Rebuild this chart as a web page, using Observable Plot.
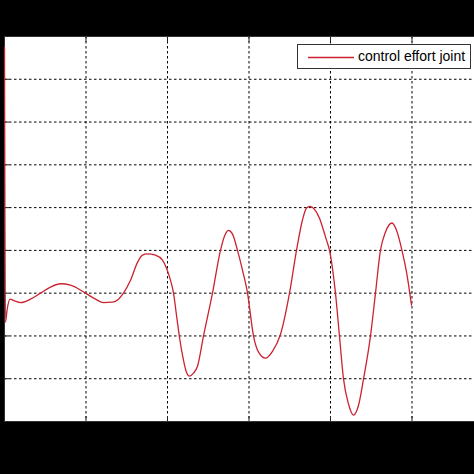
<!DOCTYPE html>
<html>
<head>
<meta charset="utf-8">
<script src="https://cdn.jsdelivr.net/npm/d3@7"></script>
<script src="https://cdn.jsdelivr.net/npm/@observablehq/plot@0.6"></script>
<style>
  html, body { margin: 0; padding: 0; background: #000; }
  #wrap { position: relative; width: 474px; height: 474px; overflow: hidden; background: #000; }
  #legend {
    position: absolute; left: 297px; top: 44px; width: 174px; height: 25px;
    background: #fff; border: 1px solid #333; box-sizing: border-box;
    font-family: "Liberation Sans", Arial, sans-serif; font-size: 14px; color: #000;
  }
  #legend svg { position: absolute; left: 9px; top: 6px; }
  #legend .lb { position: absolute; left: 60px; top: 3px; white-space: nowrap; }
</style>
</head>
<body>
<div id="wrap"><div id="legend"><svg width="48" height="12"><line x1="1" y1="6.5" x2="47" y2="6.5" stroke="#cc2230" stroke-width="1.3"/></svg><span class="lb">control effort joint</span></div></div>
<script>
const timeValues = [0, 0.012, 0.031, 0.068, 0.123, 0.196, 0.319, 0.442, 0.564, 0.687, 0.81, 0.994, 1.117, 1.215, 1.325, 1.399, 1.46, 1.546, 1.632, 1.693, 1.755, 1.853, 1.939, 1.988, 2.037, 2.074, 2.11, 2.147, 2.184, 2.233, 2.27, 2.319, 2.368, 2.442, 2.552, 2.65, 2.699, 2.748, 2.798, 2.859, 2.92, 2.982, 3.055, 3.117, 3.202, 3.288, 3.387, 3.497, 3.583, 3.656, 3.706, 3.748, 3.804, 3.865, 3.914, 3.951, 3.988, 4.061, 4.11, 4.16, 4.221, 4.282, 4.344, 4.405, 4.491, 4.552, 4.613, 4.675, 4.755, 4.81, 4.877, 4.933, 4.994];
const effortValues = [57.5, -6.8, -4.0, -1.4, -1.8, -2.2, -1.4, 0, 1.4, 2.2, 1.9, 0, -1.4, -2.2, -2.1, -1.4, 0, 3.0, 7.2, 8.9, 9.2, 8.9, 7.7, 5.8, 3.0, 0, -5.1, -10.3, -14.5, -18.5, -19.4, -18.7, -17.1, -10.0, 0, 10.0, 13.3, 14.7, 13.8, 10.0, 5.4, 0, -10.0, -13.8, -15.2, -13.6, -9.6, 0, 10.0, 17.1, 19.9, 20.3, 19.6, 17.5, 14.7, 12.4, 10.0, 0, -10.0, -20.1, -25.9, -28.5, -26.2, -20.1, -10.0, 0, 10.0, 14.3, 16.4, 14.7, 10.0, 4.9, -2.8];
const xTicks = [1, 2, 3, 4, 5];
const yTicks = [-20, -10, 0, 10, 20, 30, 40, 50];
const xDomain = [0, 5.767];
const yDomain = [-30, 60];
const seriesName = "control effort joint";

const data = timeValues.map((t, i) => ({t, u: effortValues[i]}));

const chart = Plot.plot({
  width: 474,
  height: 474,
  marginLeft: 4,
  marginTop: 36,
  marginRight: 0,
  marginBottom: 53,
  x: {domain: xDomain},
  y: {domain: yDomain},
  style: {background: "#000"},
  marks: [
    Plot.frame({fill: "#fff", stroke: null}),
    Plot.gridX(xTicks, {stroke: "#000", strokeOpacity: 1, strokeWidth: 1, strokeDasharray: "2.5,2.5"}),
    Plot.gridY(yTicks, {stroke: "#000", strokeOpacity: 1, strokeWidth: 1, strokeDasharray: "2.5,2.5"}),
    Plot.axisX(xTicks, {anchor: "bottom", tickSize: -5, tickFormat: () => "", stroke: "#222", label: null}),
    Plot.axisX(xTicks, {anchor: "top", tickSize: -5, tickFormat: () => "", stroke: "#222", label: null}),
    Plot.axisY(yTicks, {anchor: "left", tickSize: -5, tickFormat: () => "", stroke: "#222", label: null}),
    Plot.frame({stroke: "#333", strokeWidth: 1}),
    Plot.line(data, {x: "t", y: "u", stroke: "#cc2230", strokeWidth: 1.3, curve: "monotone-x", title: () => seriesName})
  ]
});
document.getElementById("wrap").prepend(chart);
</script>
</body>
</html>
